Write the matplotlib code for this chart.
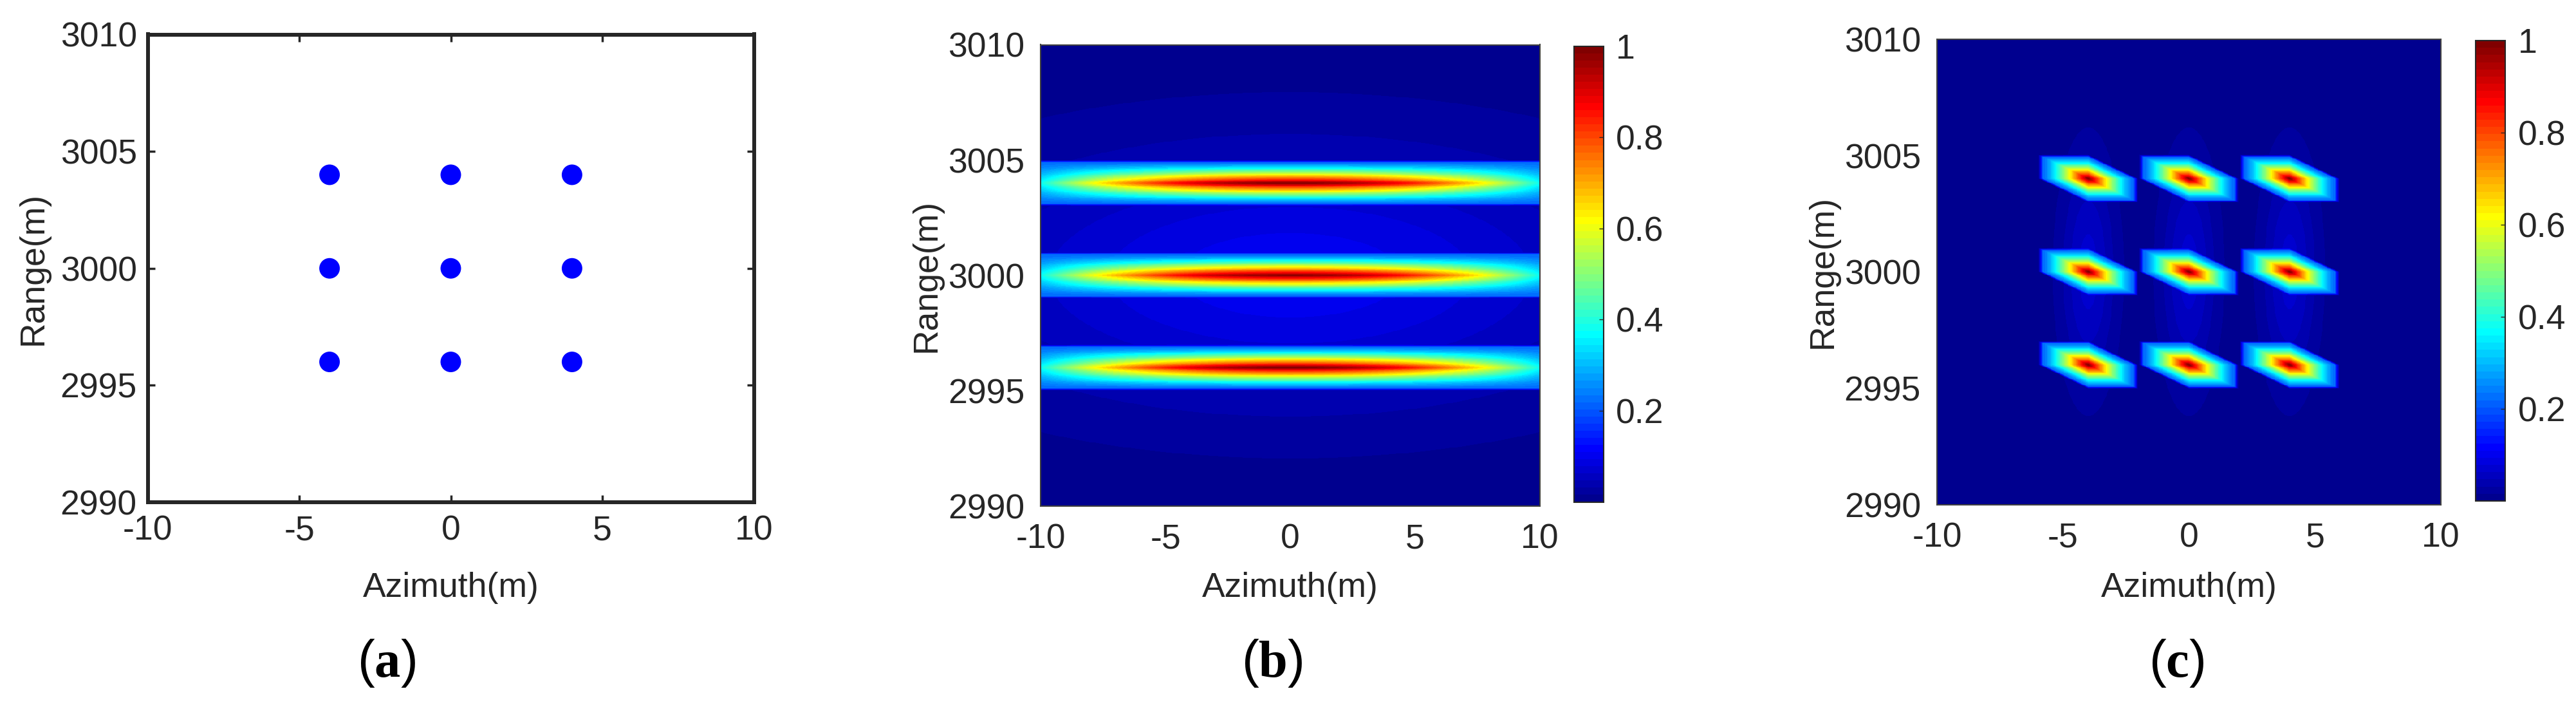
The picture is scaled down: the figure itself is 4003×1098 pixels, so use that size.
import numpy as np
import matplotlib
matplotlib.use("Agg")
import matplotlib.pyplot as plt
from matplotlib.colors import ListedColormap

# ---------------- data ----------------
target_azimuth = [-4, 0, 4]            # m
target_range = [2996, 3000, 3004]      # m
x_ticks = [-10, -5, 0, 5, 10]
y_ticks = [2990, 2995, 3000, 3005, 3010]
cbar_ticks = [0.2, 0.4, 0.6, 0.8, 1.0]
cbar_ticklabels = ["0.2", "0.4", "0.6", "0.8", "1"]
panel_labels = ["a", "b", "c"]

# imaging-response parameters
edge_level = 0.22          # normalised amplitude at the main-lobe boundary
lobe_power = 1.3           # shape of the main lobe
band_halfwidth_b = 0.9     # m, range half-width of the bands in (b)
band_falloff_b = 0.62      # peak drop from x=0 to x=+-10 in (b)
cell_az_c = 1.8            # m, azimuth cell in (c)
cell_rg_c = 0.93           # m, range cell in (c)
background = 0.005
halo_amp_b, halo_ax_b, halo_ay_b = 0.10, 13.0, 5.3
side_amp_c, side_ax_c, side_ay_c = 0.065, 1.05, 4.6

# ---------------- style ----------------
W, H, DPI = 4003, 1098, 100
plt.rcParams["font.family"] = ["Liberation Sans", "DejaVu Sans"]
plt.rcParams["axes.unicode_minus"] = False
plt.rcParams["mathtext.fontset"] = "custom"
plt.rcParams["mathtext.rm"] = "Liberation Serif"
plt.rcParams["mathtext.bf"] = "Liberation Serif:bold"
TXT = "#262626"
FS = 38.5

# MATLAB jet(64)
m, n = 64, 16
u = np.concatenate([np.arange(1, n + 1) / n, np.ones(n - 1), np.arange(n, 0, -1) / n])
g = int(np.ceil(n / 2)) - (1 if m % 4 == 1 else 0) + np.arange(1, len(u) + 1)
r = g + n
b = g - n
J = np.zeros((m, 3))
J[r[r <= m] - 1, 0] = u[r <= m]
J[g - 1, 1] = u
J[b[b >= 1] - 1, 2] = u[b >= 1]
jet64 = ListedColormap(J)

fig = plt.figure(figsize=(W / DPI, H / DPI), dpi=DPI)


def px_axes(l, t, rr, bb):
    return fig.add_axes([l / W, 1 - bb / H, (rr - l) / W, (bb - t) / H])


def fmt_axes(ax, xlab_y, ylab_x):
    ax.set_xlim(-10, 10)
    ax.set_ylim(2990, 3010)
    ax.set_xticks(x_ticks)
    ax.set_xticklabels([str(v) for v in x_ticks])
    ax.set_yticks(y_ticks)
    ax.set_yticklabels([str(v) for v in y_ticks])
    ax.set_xlabel("Azimuth(m)", fontsize=FS, color=TXT)
    ax.set_ylabel("Range(m)", fontsize=FS, color=TXT)
    ax.xaxis.set_label_coords(0.5, xlab_y)
    ax.yaxis.set_label_coords(ylab_x, 0.5)
    ax.xaxis.label.set_verticalalignment("center")
    ax.yaxis.label.set_verticalalignment("center")


# ---------------- (a) ----------------
axa = px_axes(229.5, 53.5, 1171.5, 780)
AZ, RG = np.meshgrid(target_azimuth, target_range)
axa.scatter(AZ.ravel(), RG.ravel(), s=23 ** 2, color=(0, 0, 1), edgecolors="none", zorder=3)
fmt_axes(axa, -0.183, -0.189)
for s in axa.spines.values():
    s.set_linewidth(4.3)
    s.set_color(TXT)
axa.tick_params(direction="in", length=8, width=2.5, top=True, right=True,
                labelsize=FS, labelcolor=TXT, color=TXT, pad=14)
axa.tick_params(axis="y", pad=12)

# ---------------- fields ----------------
nx, ny = 900, 800
xs = np.linspace(-10, 10, nx)
ys = np.linspace(2990, 3010, ny)
X, Y = np.meshgrid(xs, ys)
RAMP = 0.1


def shaped(h, peak, bg):
    inside = edge_level + (peak - edge_level) * np.clip(h, 0, 1) ** lobe_power
    ramp = bg + (edge_level - bg) * np.clip(1 + h / RAMP, 0, 1)
    return np.where(h > 0, inside, ramp)


# (b): range-only focusing
bg_b = background + halo_amp_b * np.exp(-(X / halo_ax_b) ** 2 - ((Y - 3000) / halo_ay_b) ** 2)
peak_b = 1 - band_falloff_b * (X / 10) ** 2
field_b = bg_b.copy()
for rc in target_range:
    h = 1 - np.abs(Y - rc) / band_halfwidth_b
    field_b = np.maximum(field_b, shaped(h, peak_b, bg_b))

# (c): 2-D focusing
bg_c = np.full_like(X, background)
for ac in target_azimuth:
    bg_c = bg_c + side_amp_c * np.exp(-((X - ac) / side_ax_c) ** 2 - ((Y - 3000) / side_ay_c) ** 2)
field_c = bg_c.copy()
for ac in target_azimuth:
    for rc in target_range:
        a = (X - ac) / cell_az_c
        bb = (rc - Y) / cell_rg_c
        h = 1 - np.maximum(np.maximum(np.abs(a), np.abs(bb)), np.abs(a - bb))
        field_c = np.maximum(field_c, shaped(h, 1.0, bg_c))


def heat_panel(field, ax_box, cb_box, xlab_y, ylab_x):
    ax = px_axes(*ax_box)
    im = ax.imshow(field, origin="lower", extent=[-10, 10, 2990, 3010], aspect="auto",
                   cmap=jet64, vmin=0, vmax=1, interpolation="nearest")
    fmt_axes(ax, xlab_y, ylab_x)
    for s in ax.spines.values():
        s.set_linewidth(1.5)
        s.set_color("#404040")
    ax.tick_params(length=0, labelsize=FS, labelcolor=TXT, pad=19)
    ax.tick_params(axis="y", pad=18)
    cax = px_axes(*cb_box)
    cb = fig.colorbar(im, cax=cax, ticks=cbar_ticks)
    cb.ax.set_yticklabels(cbar_ticklabels)
    cb.outline.set_linewidth(1.5)
    cb.outline.set_edgecolor(TXT)
    cax.tick_params(direction="in", length=5, width=1, labelsize=FS, labelcolor=TXT,
                    color=TXT, pad=14)
    return ax


axb = heat_panel(field_b, (1617, 69.5, 2393, 786), (2446, 71.5, 2491.7, 779.5), -0.177, -0.229)
axc = heat_panel(field_c, (3010, 60.7, 3793, 784), (3847, 63, 3893, 778), -0.178, -0.226)

# panel labels
for lab, xc in zip(panel_labels, [600, 1977, 3382]):
    fig.text(xc / W, 1 - 1030 / H, r"($\mathbf{%s}$)" % lab, ha="center", va="center",
             fontsize=58, color="black")

fig.savefig("out.png", dpi=DPI)
